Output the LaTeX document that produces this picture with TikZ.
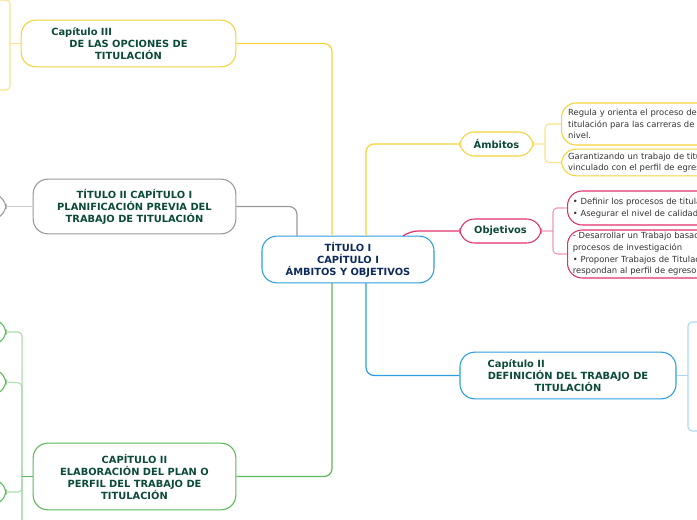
\documentclass[tikz,border=0pt]{standalone}
\usepackage{fontspec}
\setmainfont{DejaVu Sans}
\begin{document}
\begin{tikzpicture}[x=0.75pt,y=-0.75pt,
  ybox/.style={draw=cy,line width=0.8pt,rounded corners=11pt,inner sep=0pt},
  ttl/.style={font=\fontsize{7.4}{9}\selectfont\bfseries,text=tg,align=center},
  sml/.style={font=\fontsize{6.3}{8.8}\selectfont,text=black!80,align=left},
  lnk/.style={line width=0.9pt,rounded corners=6pt}]
\definecolor{cy}{HTML}{F5D33A}\definecolor{cp}{HTML}{E0306A}
\definecolor{cb}{HTML}{2A9EE0}\definecolor{cg}{HTML}{999999}
\definecolor{cn}{HTML}{5CB85C}\definecolor{tg}{HTML}{0B4A3A}
\definecolor{tb}{HTML}{0B2A5B}
\useasboundingbox (0,0) rectangle (697,520);
\node[ybox,draw=cb,minimum width=129pt,minimum height=35pt,ttl,text=tb] (c) at (348,259.5) {TÍTULO I\\CAPÍTULO I\\ÁMBITOS Y OBJETIVOS};
\node[ybox,minimum width=55pt,minimum height=18pt,ttl] (amb) at (496.5,144) {Ámbitos};
\node[ybox,draw=cp,minimum width=61pt,minimum height=18pt,ttl] (obj) at (500.5,231) {Objetivos};
\node[ybox,draw=cb,minimum width=162pt,minimum height=35pt,ttl] (c2) at (568,375.5) {Capítulo II\hspace*{10.5em}\\DEFINICIÓN DEL TRABAJO DE\\TITULACIÓN};
\node[ybox,minimum width=150pt,minimum height=31.5pt,anchor=west,sml,text width=140pt] (l1) at (561,124) {Regula y orienta el proceso de\\titulación para las carreras de\\nivel.};
\node[ybox,minimum width=150pt,minimum height=20pt,anchor=west,sml,text width=140pt] (l2) at (561,162.5) {Garantizando un trabajo de titulación\\vinculado con el perfil de egreso};
\node[ybox,draw=cp,minimum width=150pt,minimum height=25.5pt,anchor=west,sml,text width=142pt] (l3) at (567,208) {• Definir los procesos de titulación\\• Asegurar el nivel de calidad};
\node[ybox,draw=cp,minimum width=150pt,minimum height=36pt,anchor=west,sml,text width=142pt] (l4) at (567,254) {- Desarrollar un Trabajo basado en\\procesos de investigación\\• Proponer Trabajos de Titulación\\respondan al perfil de egreso};
\coordinate (b2t) at (688,322); \coordinate (b2b) at (688,431);
\draw[cb!40,line width=0.8pt,rounded corners=3pt] (697,322) -- (b2t) -- (b2b) -- (697,431);
\draw[cb!40,line width=0.8pt] (c2.east) -- (688,375.5);
\node[ybox,minimum width=161pt,minimum height=35pt,ttl] (c3) at (128.5,43.5) {Capítulo III\hspace*{9.5em}\\DE LAS OPCIONES DE\\TITULACIÓN};
\node[ybox,draw=cg,minimum width=152pt,minimum height=41pt,ttl] (t2) at (134.5,206.5) {TÍTULO II CAPÍTULO I\\PLANIFICACIÓN PREVIA DEL\\TRABAJO DE TITULACIÓN};
\node[ybox,draw=cn,minimum width=152pt,minimum height=50pt,ttl] (cp2) at (134.5,476.5) {CAPÍTULO II\\ELABORACIÓN DEL PLAN O\\PERFIL DEL TRABAJO DE\\TITULACIÓN};
\draw[cy!60,line width=0.8pt,rounded corners=3pt] (0,0) -- (10,0) -- (10,90) -- (0,90);
\draw[cy!60,line width=0.8pt] (c3.west) -- (10,43.5);
\node[draw=cg,line width=0.8pt,rounded corners=12pt,minimum width=30pt,minimum height=20pt] (g1) at (-14,206.5) {};
\draw[cg!50,line width=0.8pt] (g1.east) -- (t2.west);
\foreach \yy/\nm in {332/n1,382/n2,492/n3}
  \node[draw=cn,line width=0.8pt,rounded corners=12pt,minimum width=30pt,minimum height=20pt] (\nm) at (-14,\yy) {};
\draw[cn!50,line width=0.8pt,rounded corners=3pt] (n1.east) -- (22,332) -- (22,520);
\draw[cn!50,line width=0.8pt,rounded corners=3pt] (n2.east) -- (22,383) -- (22,520);
\draw[cn!50,line width=0.8pt,rounded corners=3pt] (n3.east) -- (22,492) -- (22,470);
\draw[cn,line width=0.8pt] (cp2.west) -- (22,476.5);
\draw[lnk,cy] (366,236) -- (366,144) -- (amb.west);
\draw[lnk,cp] (403,236) -- (410,231) -- (obj.west);
\draw[lnk,cb] (366,283) -- (366,375.5) -- (c2.west);
\draw[lnk,cy] (332,236) -- (332,43.5) -- (c3.east);
\draw[lnk,cg] (297,236) -- (297,206.5) -- (t2.east);
\draw[lnk,cn] (332,283) -- (332,476.5) -- (cp2.east);
\draw[cy!60,line width=0.8pt,rounded corners=3pt] (amb.east) -- (545,144) (l1.west) -- (545,124) -- (545,162.5) -- (l2.west);
\draw[cp!50,line width=0.8pt,rounded corners=3pt] (obj.east) -- (553,231) (l3.west) -- (553,208) -- (553,254) -- (l4.west);
\end{tikzpicture}
\end{document}
